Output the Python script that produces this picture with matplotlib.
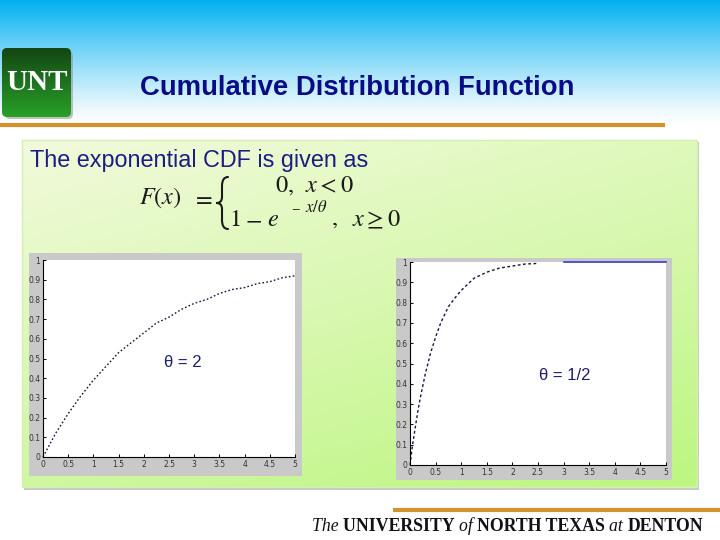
import numpy as np
import matplotlib
matplotlib.use("Agg")
import matplotlib.pyplot as plt
from matplotlib.patches import Rectangle, FancyBboxPatch, PathPatch
from matplotlib.path import Path

plt.rcParams['mathtext.fontset'] = 'stix'

# ---- data ----
title = "Cumulative Distribution Function"
intro = "The exponential CDF is given as"
label_left = "θ = 2"
label_right = "θ = 1/2"

x_left = [0, 0.25, 0.5, 0.75, 1, 1.25, 1.5, 1.75, 2, 2.25, 2.5, 2.75, 3,
          3.25, 3.5, 3.75, 4, 4.25, 4.5, 4.75, 5]
y_left = [0, 0.12, 0.22, 0.31, 0.39, 0.46, 0.53, 0.58, 0.63, 0.68, 0.71,
          0.75, 0.78, 0.80, 0.83, 0.85, 0.86, 0.88, 0.89, 0.91, 0.92]

x_right = [0, 0.05, 0.1, 0.15, 0.2, 0.3, 0.4, 0.5, 0.6, 0.75, 0.9, 1.0, 1.25,
           1.5, 1.75, 2.0, 2.25, 2.5, 3.0, 3.5, 4.0, 4.5, 5.0]
y_right = [0, 0.10, 0.18, 0.26, 0.33, 0.45, 0.55, 0.63, 0.70, 0.78, 0.83,
           0.86, 0.92, 0.95, 0.97, 0.98, 0.99, 0.993, 1, 1, 1, 1, 1]

xticks = [0, 0.5, 1, 1.5, 2, 2.5, 3, 3.5, 4, 4.5, 5]
xtick_labels = ["0", "0.5", "1", "1.5", "2", "2.5", "3", "3.5", "4", "4.5", "5"]
yticks = [0, 0.1, 0.2, 0.3, 0.4, 0.5, 0.6, 0.7, 0.8, 0.9, 1]
ytick_labels = ["0", "0.1", "0.2", "0.3", "0.4", "0.5", "0.6", "0.7", "0.8", "0.9", "1"]

footer = [("The ", "italic", "normal"), ("UNIVERSITY ", "normal", "bold"),
          ("of ", "italic", "normal"), ("NORTH TEXAS ", "normal", "bold"),
          ("at ", "italic", "normal"), ("DENTON", "normal", "bold")]

W, H = 720, 540
fig = plt.figure(figsize=(7.2, 5.4), dpi=100)
bg = fig.add_axes([0, 0, 1, 1])
bg.set_xlim(0, W)
bg.set_ylim(H, 0)
bg.axis('off')

# top blue gradient
t = np.linspace(0, 1, 128)[:, None]
top = np.array([0, 176, 240]) / 255.0
white = np.array([1, 1, 1.0])
grad = (1 - t) ** 1.2
img = top[None, None, :] * grad[:, :, None] + white[None, None, :] * (1 - grad[:, :, None])
img = np.repeat(img, 2, axis=1)
bg.imshow(img, extent=(0, W, 125, 0), aspect='auto', zorder=0)

# UNT logo
bg.add_patch(FancyBboxPatch((5, 51), 68, 68, boxstyle="round,pad=0,rounding_size=5",
                            fc='#888888', ec='none', zorder=1, alpha=0.5))
lg = np.linspace(0, 1, 64)[:, None]
c0 = np.array([20, 70, 20]) / 255.0
c1 = np.array([40, 160, 40]) / 255.0
limg = c0[None, None, :] * (1 - lg[:, :, None]) + c1[None, None, :] * lg[:, :, None]
limg = np.repeat(limg, 2, axis=1)
im = bg.imshow(limg, extent=(2, 71, 117, 48), aspect='auto', zorder=2)
clip = FancyBboxPatch((2, 48), 69, 69, boxstyle="round,pad=0,rounding_size=5",
                      fc='none', ec='none', transform=bg.transData)
bg.add_patch(clip)
im.set_clip_path(clip)
bg.text(37, 82, "UNT", color='white', fontsize=21, fontweight='bold',
        family='Liberation Serif', ha='center', va='center', zorder=3)

# title
bg.text(140, 88, title, color='#0b0b86', fontsize=19.8, fontweight='bold',
        family='Liberation Sans', ha='left', va='center', zorder=3)

# orange rule
bg.plot([0, 665], [125, 125], color='#d4922c', lw=3, solid_capstyle='butt', zorder=3)

# green box gradient
gy, gx = np.mgrid[0:1:100j, 0:1:150j]
tt = np.clip(0.35 * gx + 0.65 * gy, 0, 1)[:, :, None]
g0 = np.array([242, 250, 220]) / 255.0
g1 = np.array([188, 246, 128]) / 255.0
gimg = g0 * (1 - tt) + g1 * tt
bg.add_patch(Rectangle((24, 142), 675, 348, fc='#c8c8c8', ec='none', zorder=1))
bg.imshow(gimg, extent=(22, 697, 487, 140), aspect='auto', zorder=2)
bg.add_patch(Rectangle((22, 140), 675, 347, fc='none', ec='#d6eeb4', lw=1, zorder=3))

# intro text
bg.text(30, 160, intro, color='#1c1c86', fontsize=16.8, family='Liberation Sans',
        ha='left', va='center', zorder=4)

# formula, piece by piece
fcol = '#1a1a1a'
fs = 17.5
kw = dict(color=fcol, ha='left', va='center', zorder=4)
bg.text(139, 198, r"$F(x)$", fontsize=fs, **kw)
bg.text(192, 198, r"$=$", fontsize=fs, **kw)
brace = Path([(228, 177), (222, 177), (222, 186), (222, 197), (222, 203), (216.5, 203),
              (222, 203), (222, 209), (222, 220), (222, 229), (228, 229)],
             [Path.MOVETO, Path.CURVE3, Path.CURVE3, Path.LINETO, Path.CURVE3, Path.CURVE3,
              Path.CURVE3, Path.CURVE3, Path.LINETO, Path.CURVE3, Path.CURVE3])
bg.add_patch(PathPatch(brace, fc='none', ec=fcol, lw=1.5, zorder=4, capstyle='round'))
bg.text(275, 185, r"$0,$", fontsize=fs, **kw)
bg.text(305, 185, r"$x < 0$", fontsize=fs, **kw)
bg.text(229, 219, r"$1$", fontsize=fs, **kw)
bg.text(245, 219, r"$-$", fontsize=fs, **kw)
bg.text(267, 219, r"$e$", fontsize=fs, **kw)
bg.text(291, 207, r"$-$", fontsize=9, **kw)
bg.text(305, 207, r"$x/\theta$", fontsize=12, **kw)
bg.text(331, 218, r"$,$", fontsize=fs, **kw)
bg.text(352, 219, r"$x \geq 0$", fontsize=fs, **kw)

# gray frames behind plots
bg.add_patch(Rectangle((29, 253), 273, 223, fc='#c9c9c9', ec='none', zorder=4))
bg.add_patch(Rectangle((396, 258), 276, 222, fc='#c9c9c9', ec='none', zorder=4))

# footer
bg.plot([393, 720], [510, 510], color='#d4922c', lw=3, solid_capstyle='butt', zorder=3)
fig.canvas.draw()
r = fig.canvas.get_renderer()
xpos = 312
for s, style, weight in footer:
    tx = bg.text(xpos, 531, s, fontsize=12.8, family='Liberation Serif', style=style,
                 fontweight=weight, color='#111111', ha='left', va='baseline', zorder=4)
    bb = tx.get_window_extent(renderer=r)
    xpos += bb.width * (W / fig.bbox.width)


def style_axes(ax):
    ax.set_facecolor('white')
    ax.set_xlim(0, 5)
    ax.set_ylim(0, 1)
    ax.set_xticks(xticks)
    ax.set_xticklabels(xtick_labels)
    ax.set_yticks(yticks)
    ax.set_yticklabels(ytick_labels)
    ax.tick_params(direction='in', length=2.5, width=0.7, labelsize=5.5,
                   labelcolor='#333333', pad=2)
    for sp in ['top', 'right']:
        ax.spines[sp].set_visible(False)
    for sp in ['left', 'bottom']:
        ax.spines[sp].set_linewidth(0.8)
        ax.spines[sp].set_color('black')


axL = fig.add_axes([43 / W, 1 - 457 / H, 252 / W, 197 / H])
style_axes(axL)
axL.plot(x_left, y_left, color='#151545', lw=1.0, linestyle=(0, (1.2, 1.6)), clip_on=False)
axL.text(2.78, 0.48, label_left, fontsize=12, color='#1c1c6e', family='Liberation Sans',
         ha='center', va='center')

axR = fig.add_axes([410 / W, 1 - 465 / H, 256 / W, 203 / H])
style_axes(axR)
xr = np.array(x_right)
yr = np.array(y_right)
m = yr < 1
axR.plot(xr[m], yr[m], color='#151545', lw=1.0, linestyle=(0, (2, 1.8)), clip_on=False)
axR.plot(xr[~m], yr[~m], color='#3a3ad0', lw=1.2, clip_on=False)
axR.text(3.03, 0.44, label_right, fontsize=12, color='#1c1c6e', family='Liberation Sans',
         ha='center', va='center')

fig.savefig("out.png", dpi=100)
